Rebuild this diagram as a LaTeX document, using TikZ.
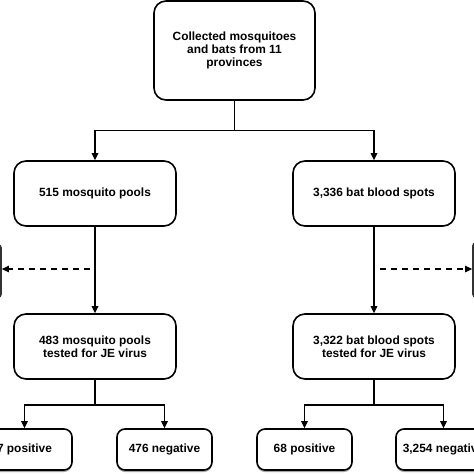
\documentclass[tikz,border=0pt]{standalone}
\usepackage{fontspec}
\setmainfont{Liberation Sans}
\usetikzlibrary{arrows.meta,shadows,calc}
\begin{document}
\begin{tikzpicture}[x=1pt,y=-1pt,
  box/.style={draw=black, line width=1.6pt, rounded corners=12pt, fill=white,
    align=center, font=\fontsize{11.9}{13.2}\selectfont\bfseries, inner sep=0pt},
  small/.style={box, rounded corners=8pt, minimum width=95pt, minimum height=41pt,
    drop shadow={shadow xshift=0pt, shadow yshift=-2pt, fill=black!35, opacity=1}},
  sidebox/.style={draw=black!80, line width=1.8pt, rounded corners=3pt, fill=white},
  conn/.style={line width=1.6pt, -{Triangle[length=7pt,width=6.5pt]}},
  plainline/.style={line width=1.6pt},
  dasharrow/.style={line width=1.3pt, dash pattern=on 6pt off 5pt, -{Triangle[length=7pt,width=6.5pt]}}
]
\useasboundingbox (0,0) rectangle (474,474);
\clip (0,0) rectangle (474,474);
\fill[white] (0,0) rectangle (474,474);

\node[box, minimum width=161pt, minimum height=99pt] (top) at (234.5,50.5)
  {Collected mosquitoes\\and bats from 11\\provinces};
\node[box, minimum width=162pt, minimum height=65pt] (ml) at (95,193.5) {515 mosquito pools};
\node[box, minimum width=162pt, minimum height=65pt] (mr) at (374,193.5) {3,336 bat blood spots};
\node[box, minimum width=162pt, minimum height=65pt] (tl) at (95,346.5) {483 mosquito pools\\tested for JE virus};
\node[box, minimum width=162pt, minimum height=65pt] (tr) at (374,346.5) {3,322 bat blood spots\\tested for JE virus};

\node[sidebox, minimum width=123pt, minimum height=52pt] (sl) at (-60.5,271) {};
\node[sidebox, minimum width=123pt, minimum height=54pt] (sr) at (534.5,270) {};

\node[small] (b1) at (24.5,449.5) {7 positive};
\node[small] (b2) at (164.5,449.5) {476 negative};
\node[small] (b3) at (304.5,449.5) {68 positive};
\node[small] (b4) at (443.5,449.5) {3,254 negative};

% top branching
\coordinate (j1) at ($(top.south)+(0,29.5)$);
\draw[plainline] (top.south) -- (j1);
\draw[conn] (j1) -| (ml.north);
\draw[conn] (j1) -| (mr.north);

% middle to third row
\draw[conn] (ml.south) -- (tl.north);
\draw[conn] (mr.south) -- (tr.north);

% dashed side arrows
\coordinate (dl) at (90,269);
\coordinate (dr) at (380,269);
\draw[dasharrow] (dl) -- (dl -| sl.east);
\draw[dasharrow] (dr) -- (dr -| sr.west);

% bottom branching
\coordinate (j2) at ($(tl.south)+(0,25)$);
\coordinate (j3) at ($(tr.south)+(0,25)$);
\draw[plainline] (tl.south) -- (j2);
\draw[plainline] (tr.south) -- (j3);
\draw[conn] (j2) -| (b1.north);
\draw[conn] (j2) -| (b2.north);
\draw[conn] (j3) -| (b3.north);
\draw[conn] (j3) -| (b4.north);
\end{tikzpicture}
\end{document}
